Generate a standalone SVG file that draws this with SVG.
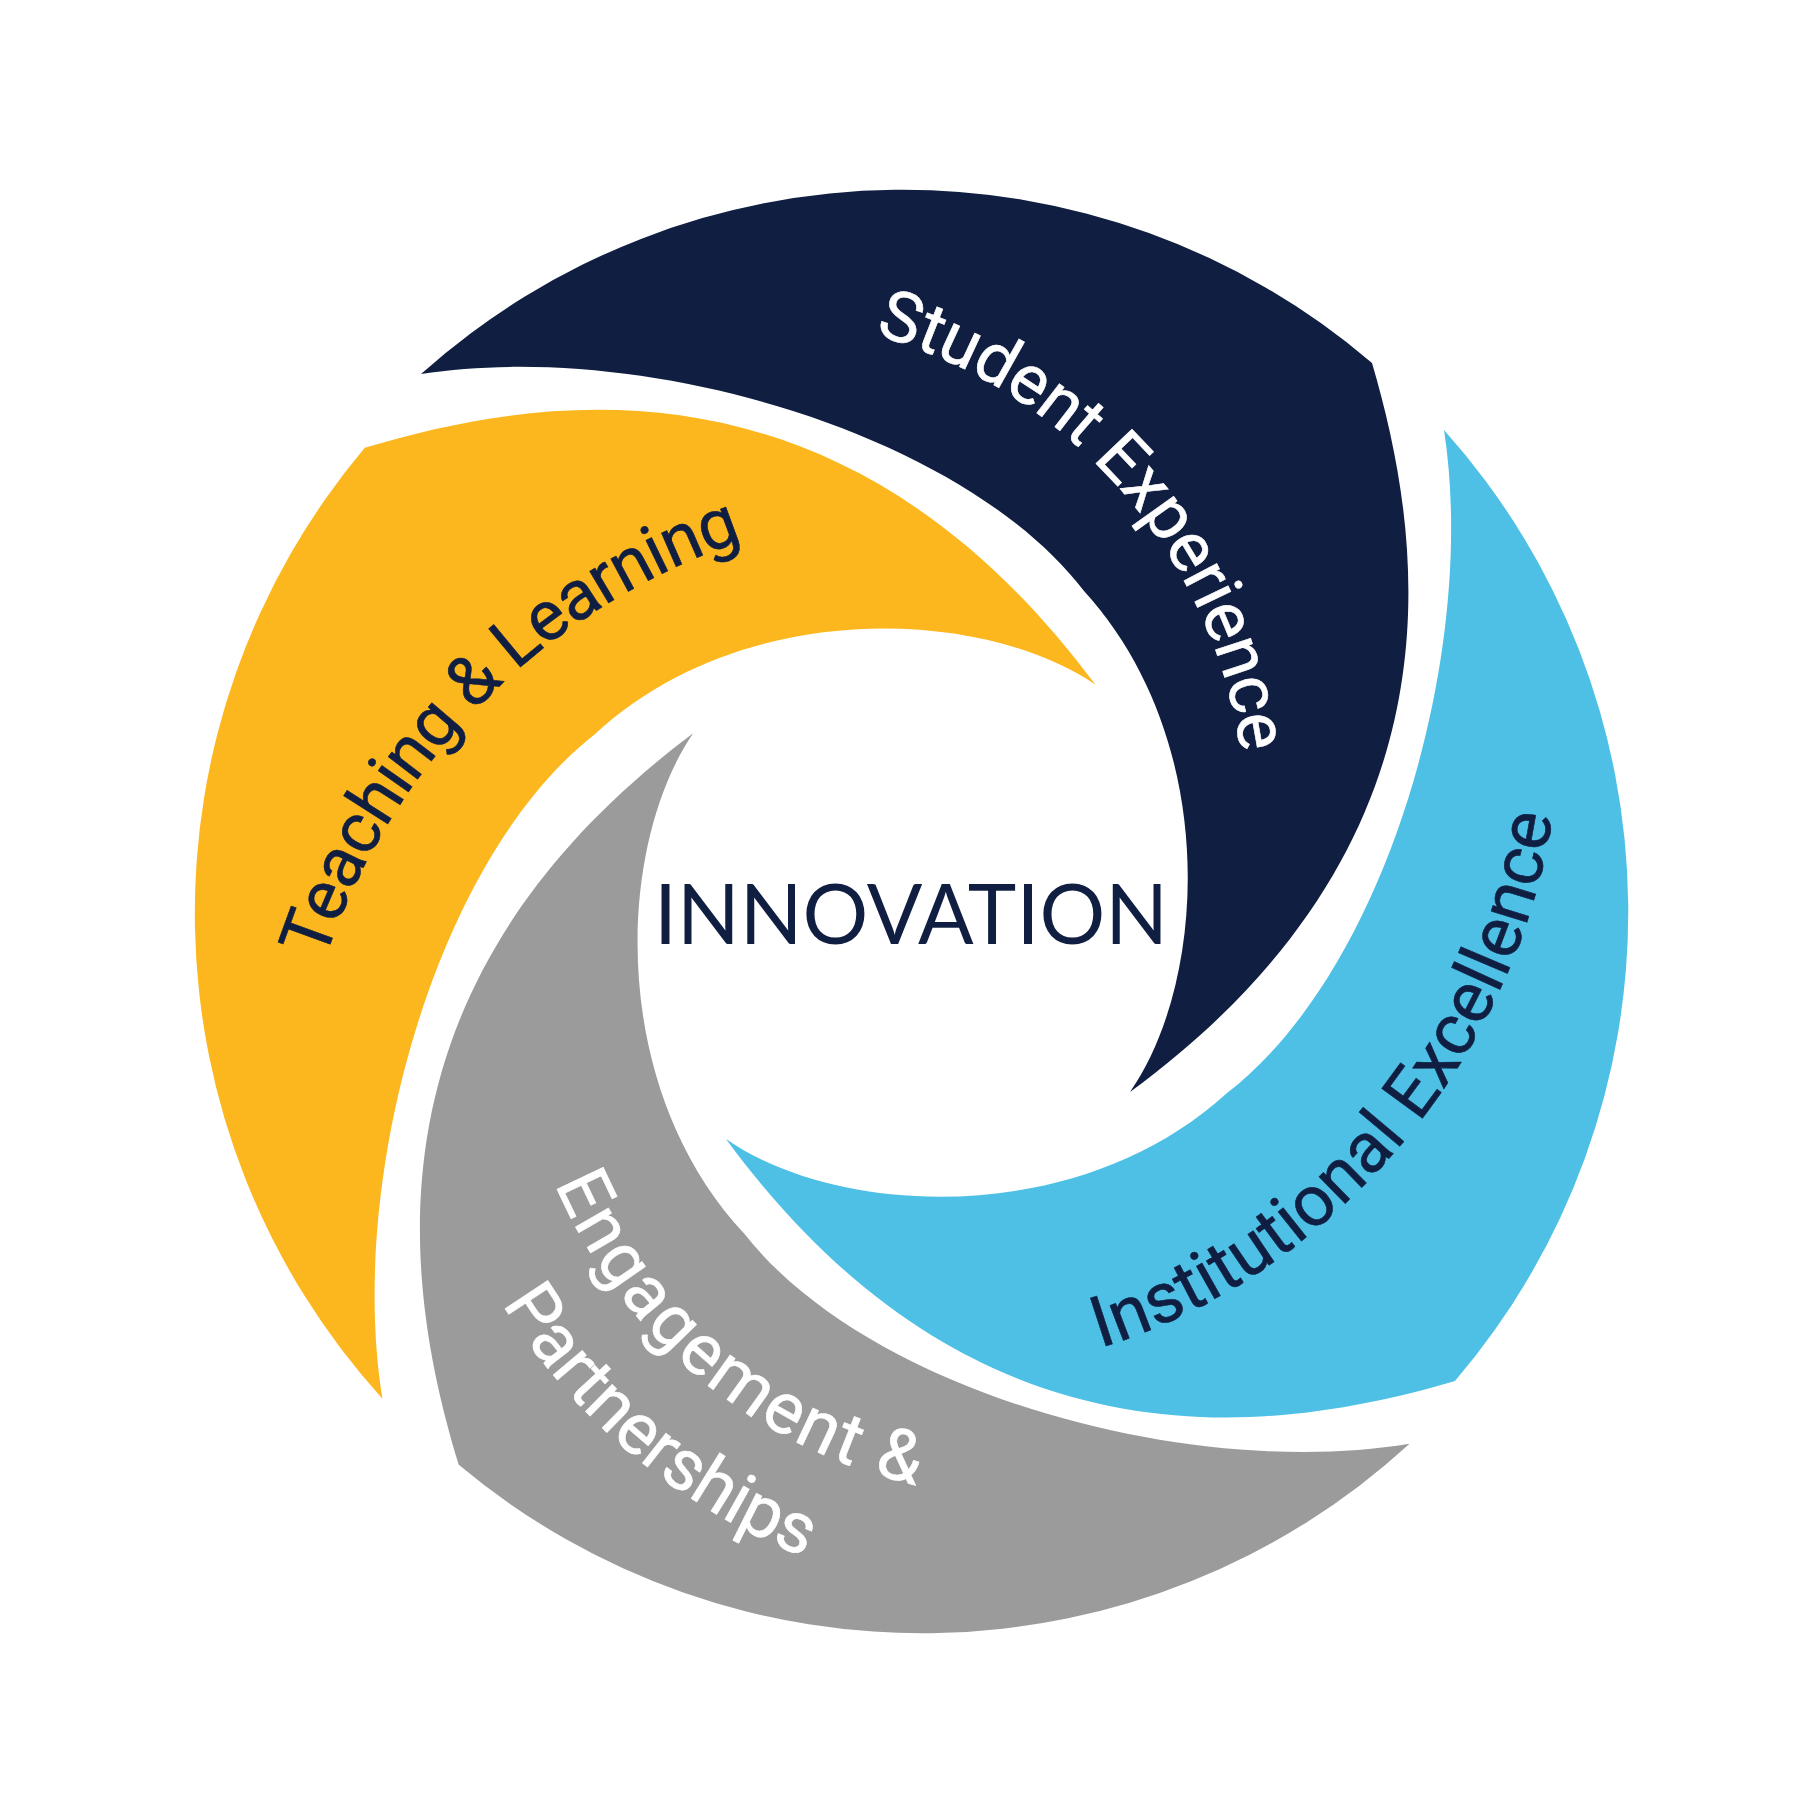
<svg xmlns="http://www.w3.org/2000/svg" width="1800" height="1800" viewBox="0 0 1800 1800">
<style>
.lbl{font-family:Roboto,Lato,"DejaVu Sans",sans-serif;font-size:70px;font-weight:400;stroke-width:0.6px;stroke-linejoin:round;}
.w{fill:#ffffff;stroke:#ffffff}
.n{fill:#0f1e41;stroke:#0f1e41}
.center{font-family:Lato,"Noto Sans","DejaVu Sans",sans-serif;font-size:84px;font-weight:400;fill:#0f1e41}
</style>
<defs>
<path id="blade" d="M421,374 A722,722 0 0 1 1372,363 C1430,560 1460,850 1130,1092 C1208,980 1220,740 1084,591 C960,430 640,340 421,374 Z"/>
<path id="p-se" d="M874.6,334.7 A508,508 0 0 1 1243.6,873.6"/>
<path id="p-tl" d="M324.6,960.8 A663,663 0 0 1 839,516"/>
<path id="p-ie" d="M1100,1348 C1334,1276 1519,1055 1553,812 L1560,740"/>
<path id="p-ep1" d="M554.8,1184 A518,518 0 0 0 985.9,1496"/>
<path id="p-ep2" d="M502.1,1303.5 A620,620 0 0 0 923.3,1590.6"/>
</defs>
<rect width="1800" height="1800" fill="#ffffff"/>
<g id="student-experience">
<use href="#blade" fill="#0f1e41"/>
<text class="lbl w"><textPath href="#p-se" textLength="588" lengthAdjust="spacing">Student Experience</textPath></text>
</g>
<g id="institutional-excellence">
<use href="#blade" fill="#4ec0e6" transform="translate(-2,9) rotate(90 910 910)"/>
<text class="lbl n" style="font-size:71px"><textPath href="#p-ie" textLength="735" lengthAdjust="spacing">Institutional Excellence</textPath></text>
</g>
<g id="engagement-partnerships">
<use href="#blade" fill="#9b9b9b" transform="translate(5,3) rotate(179.4 910 910)"/>
<text class="lbl w" style="font-size:72px"><textPath href="#p-ep1" textLength="488" lengthAdjust="spacing">Engagement &amp;</textPath></text>
<text class="lbl w" style="font-size:72px"><textPath href="#p-ep2" textLength="402" lengthAdjust="spacing">Partnerships</textPath></text>
</g>
<g id="teaching-learning">
<use href="#blade" fill="#fdb71e" transform="translate(5,-4) rotate(-90.4 910 910)"/>
<text class="lbl n"><textPath href="#p-tl" textLength="615" lengthAdjust="spacing">Teaching &amp; Learning</textPath></text>
</g>
<g id="innovation">
<text class="center" x="911" y="944" text-anchor="middle" textLength="514" lengthAdjust="spacingAndGlyphs">INNOVATION</text>
</g>
<g id="connectors"></g>
</svg>
